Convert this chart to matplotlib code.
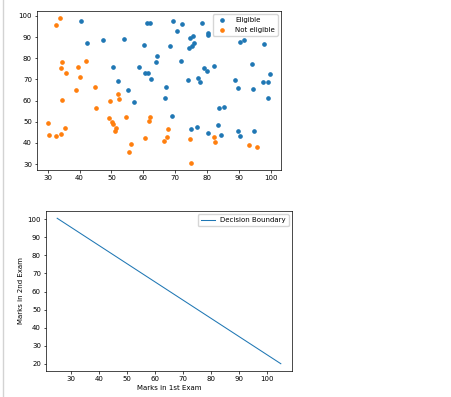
import numpy as np
import matplotlib
matplotlib.use("Agg")
import matplotlib.pyplot as plt
from matplotlib.lines import Line2D

# exam marks of students who were eligible
eligible_x1 = [60.2, 79.0, 61.1, 75.0, 76.1, 84.4, 82.3, 69.4, 54.0, 69.1,
               70.7, 77.0, 89.7, 77.9, 62.3, 80.2, 61.4, 85.4, 52.0, 64.2,
               83.9, 94.4, 77.2, 97.8, 62.1, 91.6, 79.9, 99.3, 90.5, 97.6,
               74.2, 71.8, 75.4, 40.5, 80.3, 66.7, 64.0, 72.3, 60.5, 58.8,
               99.8, 47.3, 50.5, 88.9, 94.8, 67.3, 57.2, 80.4, 68.5, 75.5,
               78.6, 94.1, 90.4, 74.5, 89.8, 83.5, 42.3, 99.3, 55.3, 74.8]
eligible_x2 = [86.3, 75.3, 96.5, 46.6, 87.4, 43.5, 76.5, 97.7, 89.2, 52.7,
               92.9, 47.6, 65.8, 69.0, 70.0, 44.8, 72.8, 57.1, 69.4, 80.9,
               56.3, 65.6, 70.5, 86.7, 96.8, 88.7, 74.2, 61.0, 43.4, 68.9,
               69.8, 78.5, 85.8, 97.5, 92.1, 61.0, 78.0, 96.2, 73.1, 75.9,
               72.4, 88.5, 75.8, 69.8, 45.7, 66.6, 59.5, 91.0, 85.6, 90.4,
               96.6, 77.2, 87.5, 84.8, 45.4, 48.4, 87.1, 68.8, 64.9, 89.5]

# exam marks of students who were not eligible
not_x1 = [34.6, 30.3, 35.8, 45.1, 95.9, 75.0, 39.5, 67.9, 67.4, 50.5,
          34.2, 93.1, 61.8, 38.8, 52.1, 40.2, 54.6, 33.9, 74.8, 34.2,
          51.5, 82.4, 51.0, 62.2, 34.5, 50.3, 49.6, 32.6, 35.3, 56.3,
          30.1, 44.7, 66.6, 49.1, 32.7, 60.5, 82.2, 42.1, 52.3, 55.5]
not_x2 = [78.0, 43.9, 72.9, 56.3, 38.2, 30.6, 76.0, 46.7, 42.8, 48.9,
          44.2, 38.8, 50.3, 65.0, 63.1, 71.2, 52.2, 98.9, 41.6, 75.2,
          46.9, 40.6, 45.8, 52.1, 60.4, 49.8, 59.8, 95.6, 47.0, 39.3,
          49.6, 66.5, 41.1, 51.9, 43.3, 42.5, 42.7, 78.8, 60.8, 35.6]

# decision boundary end points
boundary_x = [25.1, 104.8]
boundary_y = [100.6, 20.0]

fs = 5
plt.rcParams.update({
    "font.size": fs,
    "axes.linewidth": 0.5,
    "xtick.major.size": 1.8,
    "ytick.major.size": 1.8,
    "xtick.major.width": 0.5,
    "ytick.major.width": 0.5,
    "xtick.major.pad": 1.8,
    "ytick.major.pad": 1.8,
    "axes.labelpad": 2.5,
})

W, H = 452, 397
fig = plt.figure(figsize=(W / 100, H / 100), dpi=100)

# top: scatter of the two groups
ax1 = fig.add_axes([37 / W, 1 - 170 / H, 244 / W, 159 / H])
ax1.scatter(eligible_x1, eligible_x2, s=5.5, label="Eligible")
ax1.scatter(not_x1, not_x2, s=5.5, label="Not eligible")
ax1.set_xticks(np.arange(30, 101, 10))
ax1.set_yticks(np.arange(30, 101, 10))
ax1.legend(loc="upper right", fontsize=fs)

# bottom: decision boundary line
ax2 = fig.add_axes([46 / W, 1 - 371 / H, 246 / W, 160 / H])
ax2.plot(boundary_x, boundary_y, lw=0.75, label="Decision Boundary")
ax2.set_xticks(np.arange(30, 101, 10))
ax2.set_yticks(np.arange(20, 101, 10))
ax2.set_xlabel("Marks in 1st Exam")
ax2.set_ylabel("Marks in 2nd Exam")
ax2.legend(loc="upper right", fontsize=fs)

# notebook cell border on the left
fig.add_artist(Line2D([3.5 / W, 3.5 / W], [0, 1], color="#d3d3d3", lw=1.0))

fig.savefig("out.png", dpi=100)
